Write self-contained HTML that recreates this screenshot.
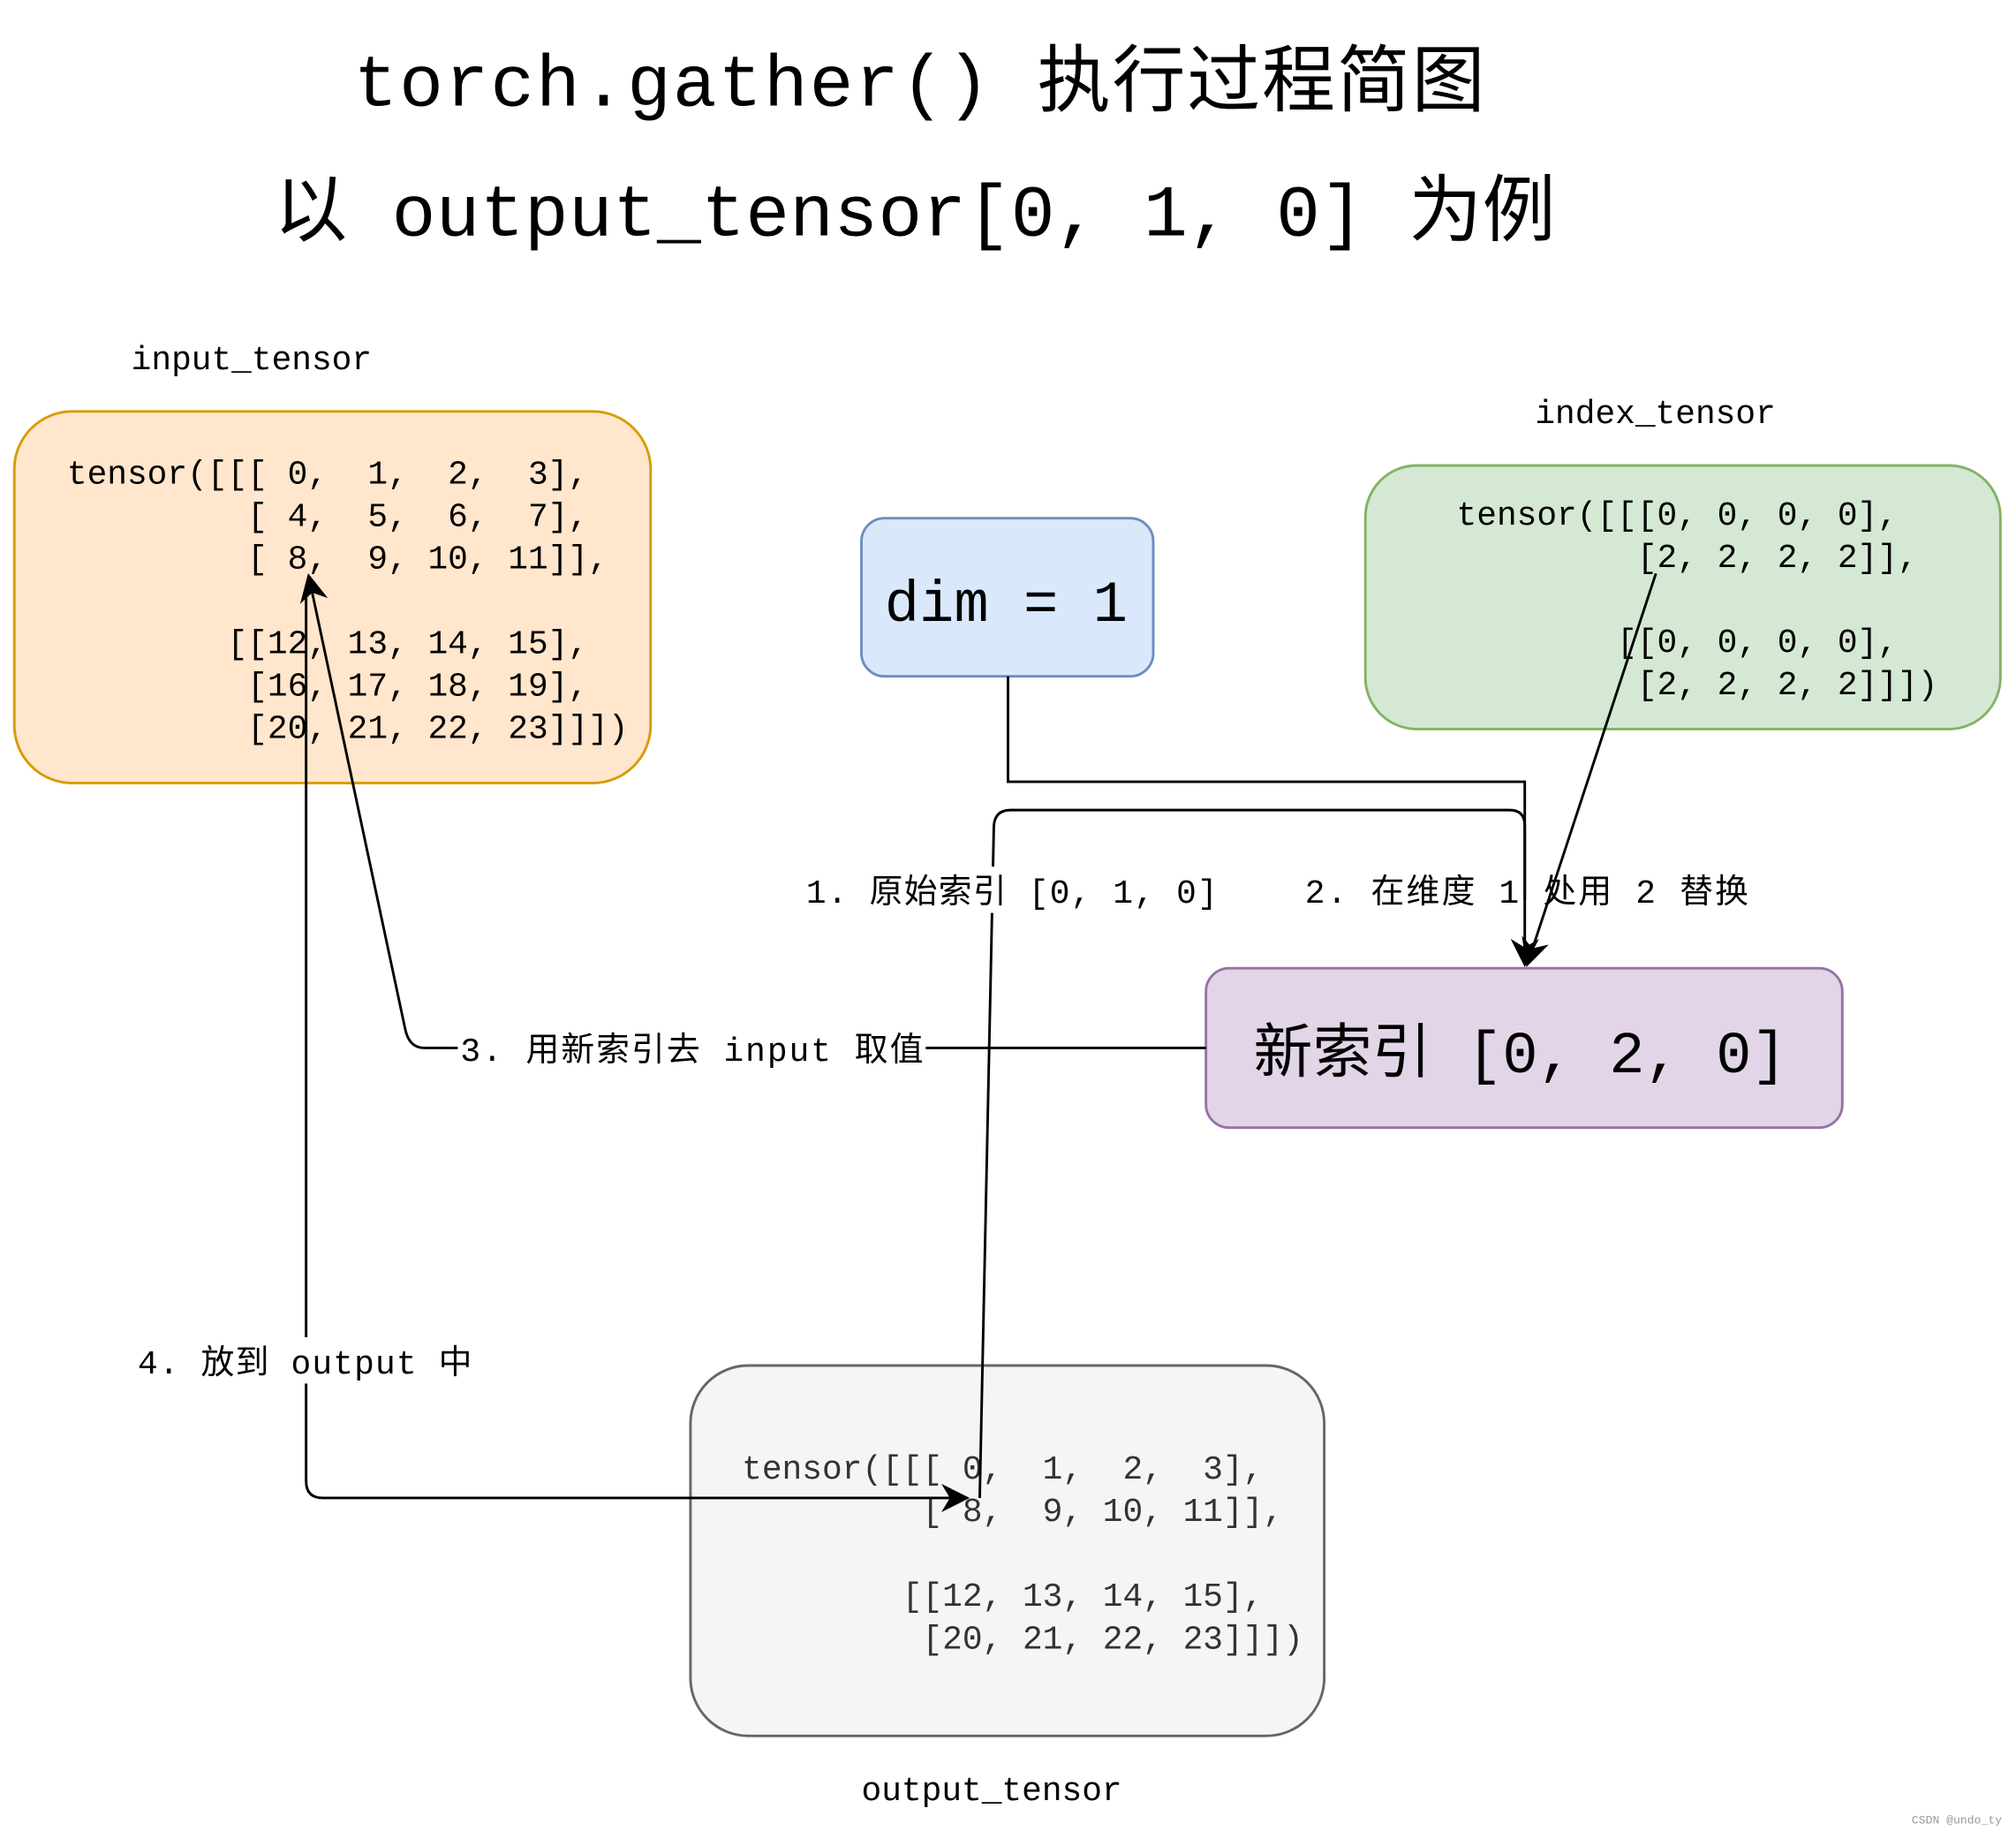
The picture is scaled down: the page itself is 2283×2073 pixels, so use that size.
<!DOCTYPE html>
<html><head><meta charset="utf-8"><style>
html,body{margin:0;padding:0;background:#fff;}
svg{display:block;}
text{font-family:"Liberation Mono","Noto Sans CJK SC",monospace;white-space:pre;}
</style></head><body>
<svg width="2283" height="2073" viewBox="0 0 1568 1424" xmlns="http://www.w3.org/2000/svg">
<defs>
<marker id="ar2" viewBox="0 0 10 10" refX="9" refY="5" markerWidth="22" markerHeight="22" orient="auto" markerUnits="userSpaceOnUse">
<path d="M0,0 L10,5 L0,10 L3,5 z" fill="#000"/></marker>
</defs>
<rect width="1568" height="1424" fill="#fff"/>
<text x="275" y="82" font-size="57" textLength="880" xml:space="preserve">torch.gather() 执行过程简图</text>
<text x="213" y="183" font-size="57" textLength="997" xml:space="preserve">以 output_tensor[0, 1, 0] 为例</text>

<text x="102" y="287" font-size="26">input_tensor</text>
<rect x="11" y="320" width="495" height="289" rx="45" fill="#ffe6cc" stroke="#d79b00" stroke-width="2"/>
<g font-size="26" fill="#000">
<text x="52" y="376" xml:space="preserve">tensor([[[ 0,  1,  2,  3],</text>
<text x="52" y="409" xml:space="preserve">         [ 4,  5,  6,  7],</text>
<text x="52" y="442" xml:space="preserve">         [ 8,  9, 10, 11]],</text>
<text x="52" y="508" xml:space="preserve">        [[12, 13, 14, 15],</text>
<text x="52" y="541" xml:space="preserve">         [16, 17, 18, 19],</text>
<text x="52" y="574" xml:space="preserve">         [20, 21, 22, 23]]])</text>
</g>

<text x="1194" y="329" font-size="26">index_tensor</text>
<rect x="1062" y="362" width="494" height="205" rx="40" fill="#d5e8d4" stroke="#82b366" stroke-width="2"/>
<g font-size="26">
<text x="1133" y="408" xml:space="preserve">tensor([[[0, 0, 0, 0],</text>
<text x="1133" y="441" xml:space="preserve">         [2, 2, 2, 2]],</text>
<text x="1133" y="507" xml:space="preserve">        [[0, 0, 0, 0],</text>
<text x="1133" y="540" xml:space="preserve">         [2, 2, 2, 2]]])</text>
</g>

<rect x="670" y="403" width="227" height="123" rx="18" fill="#dae8fc" stroke="#6c8ebf" stroke-width="2"/>
<text x="688" y="483" font-size="45" xml:space="preserve">dim = 1</text>

<rect x="938" y="753" width="495" height="124" rx="18" fill="#e1d5e7" stroke="#9673a6" stroke-width="2"/>
<text x="975" y="834" font-size="46" textLength="415" xml:space="preserve">新索引 [0, 2, 0]</text>

<rect x="537" y="1062" width="493" height="288" rx="45" fill="#f5f5f5" stroke="#666666" stroke-width="2"/>
<g font-size="26" fill="#333">
<text x="577" y="1150" xml:space="preserve">tensor([[[ 0,  1,  2,  3],</text>
<text x="577" y="1183" xml:space="preserve">         [ 8,  9, 10, 11]],</text>
<text x="577" y="1249" xml:space="preserve">        [[12, 13, 14, 15],</text>
<text x="577" y="1282" xml:space="preserve">         [20, 21, 22, 23]]])</text>
</g>
<text x="670" y="1400" font-size="26">output_tensor</text>

<g fill="none" stroke="#000" stroke-width="2">
<path d="M784,526 L784,608 L1186,608 L1186,750" marker-end="url(#ar2)"/>
<path d="M1288,446 L1188,750" marker-end="url(#ar2)"/>
<path d="M762,1165 L773,642 Q774,630 786,630 L1174,630 Q1186,630 1186,642 L1186,700"/>
<path d="M938,815 L330,815 Q318,815 315,800 L240,448" marker-end="url(#ar2)"/>
<path d="M238,460 L238,1152 Q238,1165 251,1165 L752,1165" marker-end="url(#ar2)"/>
</g>

<rect x="620" y="674" width="335" height="36" fill="#fff"/>
<text x="627" y="702" font-size="26" textLength="320" xml:space="preserve">1. 原始索引 [0, 1, 0]</text>
<text x="1015" y="702" font-size="26" textLength="345" xml:space="preserve">2. 在维度 1 处用 2 替换</text>
<rect x="356" y="797" width="364" height="36" fill="#fff"/>
<text x="358" y="825" font-size="26" textLength="360" xml:space="preserve">3. 用新索引去 input 取值</text>
<rect x="102" y="1040" width="270" height="36" fill="#fff"/>
<text x="107" y="1068" font-size="26" textLength="260" xml:space="preserve">4. 放到 output 中</text>

<text x="1487" y="1418" font-size="9" fill="#999" font-family="Liberation Sans,sans-serif">CSDN @undo_ty</text>
</svg>
</body></html>
